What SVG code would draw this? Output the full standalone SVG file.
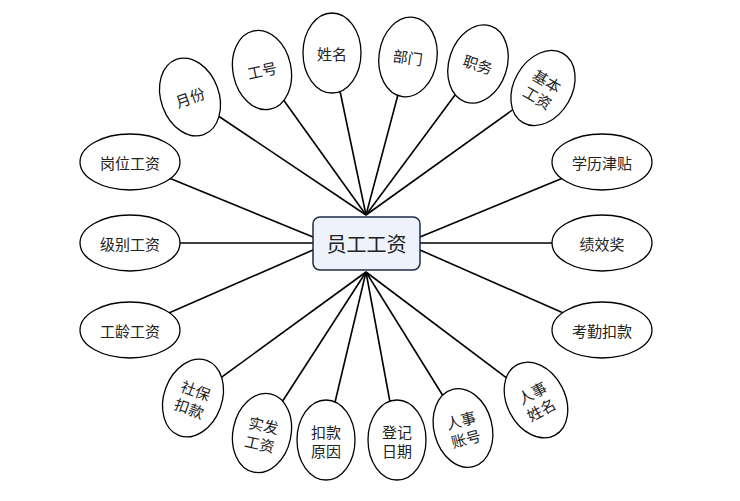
<svg xmlns="http://www.w3.org/2000/svg" width="740" height="501" viewBox="0 0 740 501">
<style>
.e{fill:#fff;stroke:#000;stroke-width:1.3}
.t{font-family:"Noto Sans CJK SC","Noto Sans",sans-serif;font-size:15px;fill:#222;text-anchor:middle;dominant-baseline:central}
.c line{stroke:#000;stroke-width:1.6}
</style>
<rect width="740" height="501" fill="#fff"/>
<g class="c" id="connectors">
<line x1="190" y1="97" x2="366" y2="215"/>
<line x1="262" y1="70" x2="366" y2="215"/>
<line x1="332" y1="53" x2="366" y2="215"/>
<line x1="408" y1="57" x2="366" y2="215"/>
<line x1="478" y1="64" x2="366" y2="215"/>
<line x1="543" y1="88" x2="366" y2="215"/>
<line x1="130" y1="162" x2="313" y2="237"/>
<line x1="130" y1="243" x2="313" y2="243"/>
<line x1="130" y1="330" x2="313" y2="250"/>
<line x1="602" y1="162" x2="420" y2="237"/>
<line x1="602" y1="243" x2="420" y2="243"/>
<line x1="602" y1="330" x2="420" y2="250"/>
<line x1="193" y1="398" x2="366" y2="272"/>
<line x1="262" y1="433" x2="366" y2="272"/>
<line x1="326" y1="440" x2="366" y2="272"/>
<line x1="397" y1="440" x2="366" y2="272"/>
<line x1="463" y1="428" x2="366" y2="272"/>
<line x1="536" y1="400" x2="366" y2="272"/>
</g>
<g id="center"><rect x="313" y="217" width="107" height="53" rx="7" fill="#eef3fb" stroke="#1f2a44" stroke-width="1.5"/><text class="t" x="366.5" y="243" style="font-size:20px">员工工资</text></g>
<g id="n1"><ellipse class="e" cx="190" cy="97" rx="29" ry="40" transform="rotate(-20 190 97)"/><text class="t" x="190" y="97" transform="rotate(-20 190 97)">月份</text></g>
<g id="n2"><ellipse class="e" cx="262" cy="70" rx="29" ry="40" transform="rotate(-12 262 70)"/><text class="t" x="262" y="70" transform="rotate(-12 262 70)">工号</text></g>
<g id="n3"><ellipse class="e" cx="332" cy="53" rx="29" ry="40"/><text class="t" x="332" y="53">姓名</text></g>
<g id="n4"><ellipse class="e" cx="408" cy="57" rx="29" ry="40" transform="rotate(8 408 57)"/><text class="t" x="408" y="57" transform="rotate(8 408 57)">部门</text></g>
<g id="n5"><ellipse class="e" cx="478" cy="64" rx="29" ry="40" transform="rotate(18 478 64)"/><text class="t" x="478" y="64" transform="rotate(18 478 64)">职务</text></g>
<g id="n6"><ellipse class="e" cx="543" cy="88" rx="29" ry="40" transform="rotate(30 543 88)"/><text class="t" transform="rotate(30 543 88)"><tspan x="543" y="79">基本</tspan><tspan x="543" y="98">工资</tspan></text></g>
<g id="n7"><ellipse class="e" cx="130" cy="162" rx="50" ry="28"/><text class="t" x="130" y="162">岗位工资</text></g>
<g id="n8"><ellipse class="e" cx="130" cy="243" rx="50" ry="28"/><text class="t" x="130" y="243">级别工资</text></g>
<g id="n9"><ellipse class="e" cx="130" cy="330" rx="50" ry="28"/><text class="t" x="130" y="330">工龄工资</text></g>
<g id="n10"><ellipse class="e" cx="602" cy="162" rx="50" ry="28"/><text class="t" x="602" y="162">学历津贴</text></g>
<g id="n11"><ellipse class="e" cx="602" cy="243" rx="50" ry="28"/><text class="t" x="602" y="243">绩效奖</text></g>
<g id="n12"><ellipse class="e" cx="602" cy="330" rx="50" ry="28"/><text class="t" x="602" y="330">考勤扣款</text></g>
<g id="n13"><ellipse class="e" cx="193" cy="398" rx="29" ry="40" transform="rotate(20 193 398)"/><text class="t" transform="rotate(20 193 398)"><tspan x="193" y="389">社保</tspan><tspan x="193" y="408">扣款</tspan></text></g>
<g id="n14"><ellipse class="e" cx="262" cy="433" rx="29" ry="40" transform="rotate(12 262 433)"/><text class="t" transform="rotate(12 262 433)"><tspan x="262" y="424">实发</tspan><tspan x="262" y="443">工资</tspan></text></g>
<g id="n15"><ellipse class="e" cx="326" cy="440" rx="29" ry="40"/><text class="t"><tspan x="326" y="431">扣款</tspan><tspan x="326" y="450">原因</tspan></text></g>
<g id="n16"><ellipse class="e" cx="397" cy="440" rx="29" ry="40"/><text class="t"><tspan x="397" y="431">登记</tspan><tspan x="397" y="450">日期</tspan></text></g>
<g id="n17"><ellipse class="e" cx="463" cy="428" rx="29" ry="40" transform="rotate(-15 463 428)"/><text class="t" transform="rotate(-15 463 428)"><tspan x="463" y="419">人事</tspan><tspan x="463" y="438">账号</tspan></text></g>
<g id="n18"><ellipse class="e" cx="536" cy="400" rx="29" ry="40" transform="rotate(-28 536 400)"/><text class="t" transform="rotate(-28 536 400)"><tspan x="536" y="391">人事</tspan><tspan x="536" y="410">姓名</tspan></text></g>
</svg>
